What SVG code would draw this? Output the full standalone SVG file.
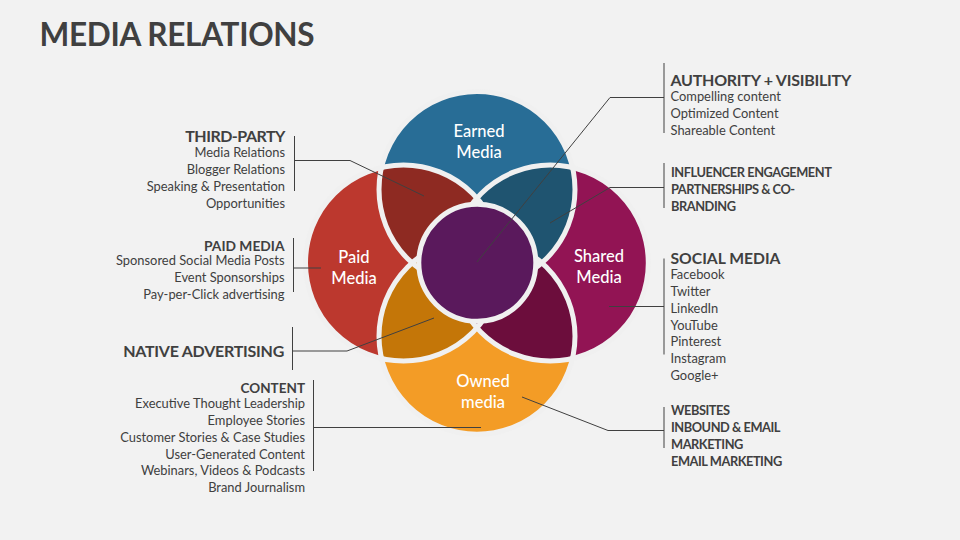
<svg xmlns="http://www.w3.org/2000/svg" width="960" height="540" viewBox="0 0 960 540">
<style>
text{font-family:"Lato","Open Sans","Liberation Sans",sans-serif;fill:#404040}
.b{font-weight:700}
.h{font-weight:700;font-size:16px;letter-spacing:-.25px}
.s{font-size:12.9px}
.m{font-weight:700;font-size:12.8px;letter-spacing:-.45px}
.e{text-anchor:end}
.c{font-size:16.5px;fill:#fff;text-anchor:middle;font-weight:500}
.gap{fill:none;stroke:#f0f0f0;stroke-width:5}
.ln{fill:none;stroke:#404040;stroke-width:1}
</style>
<defs>
<clipPath id="cE"><circle cx="477" cy="189.500" r="98"/></clipPath>
<clipPath id="cO"><circle cx="477" cy="336.200" r="98"/></clipPath>
</defs>
<rect width="960" height="540" fill="#f2f2f2"/>
<text x="39.500" y="46" class="b" style="font-size:31.500px;letter-spacing:-.3px">MEDIA RELATIONS</text>
<g id="node-paid"><circle cx="403.500" cy="263" r="98" fill="#bc382e"/></g>
<g id="node-shared"><circle cx="550.300" cy="263" r="98" fill="#921454"/></g>
<g id="node-earned"><circle cx="477" cy="189.500" r="98" fill="#286d96"/></g>
<g id="node-owned"><circle cx="477" cy="336.200" r="98" fill="#f39c26"/></g>
<g id="overlaps">
<circle cx="403.500" cy="263" r="98" fill="#8e2a22" clip-path="url(#cE)"/>
<circle cx="550.300" cy="263" r="98" fill="#1f5470" clip-path="url(#cE)"/>
<circle cx="403.500" cy="263" r="98" fill="#c47608" clip-path="url(#cO)"/>
<circle cx="550.300" cy="263" r="98" fill="#6c0d3c" clip-path="url(#cO)"/>
</g>
<g id="gaps">
<circle class="gap" cx="403.500" cy="263" r="98"/>
<circle class="gap" cx="550.300" cy="263" r="98"/>
<circle class="gap" cx="477" cy="189.500" r="98"/>
<circle class="gap" cx="477" cy="336.200" r="98"/>
</g>
<g id="node-center"><circle cx="477.300" cy="262.800" r="58.500" fill="#5a195c" stroke="#f0f0f0" stroke-width="5"/></g>
<g id="labels-circles">
<text class="c" x="479" y="136.500">Earned</text><text class="c" x="479" y="157.500">Media</text>
<text class="c" x="354" y="262.500">Paid</text><text class="c" x="354" y="283.500">Media</text>
<text class="c" x="599" y="261.500">Shared</text><text class="c" x="599" y="282.500">Media</text>
<text class="c" x="483" y="386.500">Owned</text><text class="c" x="483" y="407.500">media</text>
</g>
<g id="connectors">
<path class="ln" d="M294.500 136V191M294.500 160.500H350L424 196"/>
<path class="ln" d="M293.500 238V292M293.500 268H321"/>
<path class="ln" d="M292.500 327V370M292.500 351H347L434 318"/>
<path class="ln" d="M313.500 380V471M313.500 427.500H481"/>
<path class="ln" d="M664 63V133M664 97.500H610L477 262"/>
<path class="ln" d="M664 163V208M664 187.500H610L550 223"/>
<path class="ln" d="M664 258.500V354.500M664 306.500H609"/>
<path class="ln" d="M664 407V448M664 430.500H608L522 397"/>
</g>
<g id="text-third">
<text class="h e" style="letter-spacing:-.5px" x="285" y="142">THIRD-PARTY</text>
<text class="s e" x="285" y="157">Media Relations</text>
<text class="s e" x="285" y="174">Blogger Relations</text>
<text class="s e" x="285" y="191">Speaking &amp; Presentation</text>
<text class="s e" x="285" y="208">Opportunities</text>
</g>
<g id="text-paid">
<text class="b e" style="font-size:13.8px" x="284.500" y="250.500">PAID MEDIA</text>
<text class="s e" x="284.500" y="265">Sponsored Social Media Posts</text>
<text class="s e" x="284.500" y="282">Event Sponsorships</text>
<text class="s e" x="284.500" y="299">Pay-per-Click advertising</text>
</g>
<g id="text-native"><text class="h e" x="284" y="357">NATIVE ADVERTISING</text></g>
<g id="text-content">
<text class="b e" style="font-size:13.5px" x="305" y="393">CONTENT</text>
<text class="s e" x="305" y="408">Executive Thought Leadership</text>
<text class="s e" x="305" y="425">Employee Stories</text>
<text class="s e" x="305" y="442">Customer Stories &amp; Case Studies</text>
<text class="s e" x="305" y="459">User-Generated Content</text>
<text class="s e" x="305" y="475">Webinars, Videos &amp; Podcasts</text>
<text class="s e" x="305" y="492">Brand Journalism</text>
</g>
<g id="text-authority">
<text class="h" x="670.500" y="86">AUTHORITY + VISIBILITY</text>
<text class="s" x="670.500" y="101">Compelling content</text>
<text class="s" x="670.500" y="118">Optimized Content</text>
<text class="s" x="670.500" y="135">Shareable Content</text>
</g>
<g id="text-influencer">
<text class="m" x="671" y="177">INFLUENCER ENGAGEMENT</text>
<text class="m" x="671" y="194">PARTNERSHIPS &amp; CO-</text>
<text class="m" x="671" y="211">BRANDING</text>
</g>
<g id="text-social">
<text class="b" style="font-size:15.7px" x="670.500" y="264">SOCIAL MEDIA</text>
<text class="s" x="670.500" y="279">Facebook</text>
<text class="s" x="670.500" y="296">Twitter</text>
<text class="s" x="670.500" y="313">LinkedIn</text>
<text class="s" x="670.500" y="330">YouTube</text>
<text class="s" x="670.500" y="346">Pinterest</text>
<text class="s" x="670.500" y="363">Instagram</text>
<text class="s" x="670.500" y="380">Google+</text>
</g>
<g id="text-web">
<text class="m" x="671" y="415">WEBSITES</text>
<text class="m" x="671" y="432">INBOUND &amp; EMAIL</text>
<text class="m" x="671" y="449">MARKETING</text>
<text class="m" x="671" y="466">EMAIL MARKETING</text>
</g>
</svg>
